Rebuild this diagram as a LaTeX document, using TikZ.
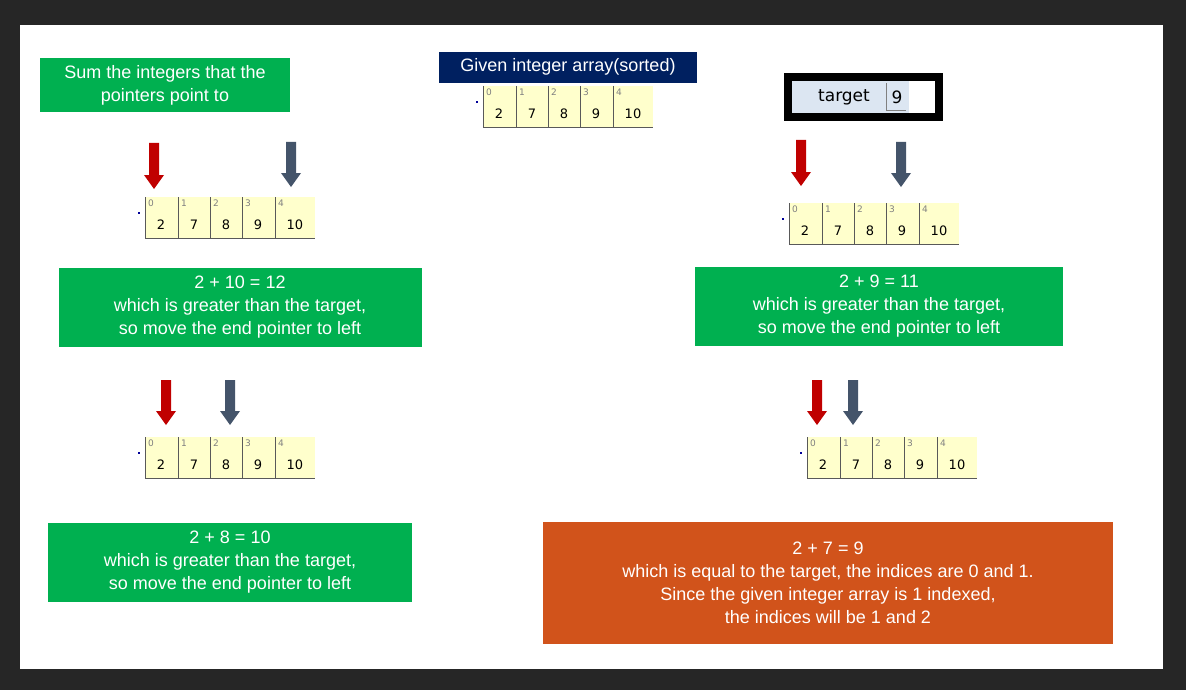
\documentclass[tikz,border=0pt]{standalone}
\usepackage{fontspec}
\setmainfont{Liberation Sans}
\newfontfamily\dv{DejaVu Sans}
\definecolor{gbox}{HTML}{00B050}
\definecolor{obox}{HTML}{D1531B}
\definecolor{navy}{HTML}{002060}
\definecolor{ptr}{HTML}{44546A}
\definecolor{red2}{HTML}{C00000}
\definecolor{cellc}{HTML}{FFFFCC}
\definecolor{tgt}{HTML}{DCE6F2}
\newcommand{\arr}[2]{%
  \begin{scope}[shift={(#1,#2)}]
  \fill[cellc] (0,0) rectangle (170,41);
  \foreach \i/\x/\v in {0/0/2,1/33/7,2/65/8,3/97/9,4/130/10}{
    \draw[gray!70!black,line width=0.8] (\x,0) -- (\x,41);
    \node[anchor=north west,inner sep=0,text=gray,font=\dv\fontsize{9}{10}\selectfont] at (\x+3,3) {\i};
  }
  \foreach \x/\v in {16/2,49/7,81/8,113/9,150/10}
    \node[font=\dv\fontsize{13}{14}\selectfont] at (\x,28) {\v};
  \draw[gray!70!black,line width=0.8] (0,41) -- (170,41);
  \fill[blue!60!black] (-7,15) rectangle (-5,17);
  \end{scope}}
\newcommand{\parrow}[4]{%
  \fill[#4] (#1-5,#2) -- (#1+5,#2) -- (#1+5,#3-14) -- (#1+10,#3-14) -- (#1,#3) -- (#1-10,#3-14) -- (#1-5,#3-14) -- cycle;}
\begin{document}
\begin{tikzpicture}[x=1pt,y=-1pt,
  txt/.style={font=\fontsize{18}{23}\selectfont,text=white,align=center}]
\useasboundingbox (0,0) rectangle (1186,690);
\fill[black!85] (0,0) rectangle (1186,690);
\fill[white] (20,25) rectangle (1163,669);
% boxes
\fill[gbox] (40,58) rectangle (290,112);
\node[txt] (b0) at (165,85) {Sum the integers that the\\pointers point to};
\fill[navy] (439,52) rectangle (697,83);
\node[txt] (t) at (568,67) {Given integer array(sorted)};
\fill[gbox] (59,268) rectangle (422,347);
\node[txt] (b1) at (240,307) {2 + 10 = 12\\which is greater than the target,\\so move the end pointer to left};
\fill[gbox] (695,267) rectangle (1063,346);
\node[txt] (b2) at (879,306) {2 + 9 = 11\\which is greater than the target,\\so move the end pointer to left};
\fill[gbox] (48,523) rectangle (412,602);
\node[txt] (b3) at (230,562) {2 + 8 = 10\\which is greater than the target,\\so move the end pointer to left};
\fill[obox] (543,522) rectangle (1113,644);
\node[txt] (b4) at (828,583) {2 + 7 = 9\\which is equal to the target, the indices are 0 and 1.\\Since the given integer array is 1 indexed,\\the indices will be 1 and 2};
% target
\draw[black,line width=8] (788,77) rectangle (939,117);
\fill[tgt] (792,81) rectangle (935,113);
\fill[white] (909,81) rectangle (935,113);
\draw[gray,line width=0.6] (886,83) -- (886,110) -- (906,110);
\node[font=\dv\fontsize{17}{18}\selectfont] (tg) at (844,97) {target};
\node[font=\dv\fontsize{17}{18}\selectfont] (nv) at (897,97) {9};
% arrays
\arr{483}{86}
\arr{145}{197}
\arr{145}{437}
\arr{789}{203}
\arr{807}{437}
% pointers
\parrow{154}{143}{189}{red2}
\parrow{291}{142}{187}{ptr}
\parrow{166}{380}{425}{red2}
\parrow{230}{380}{425}{ptr}
\parrow{801}{140}{186}{red2}
\parrow{901}{142}{187}{ptr}
\parrow{817}{380}{425}{red2}
\parrow{853}{380}{425}{ptr}
\end{tikzpicture}
\end{document}
